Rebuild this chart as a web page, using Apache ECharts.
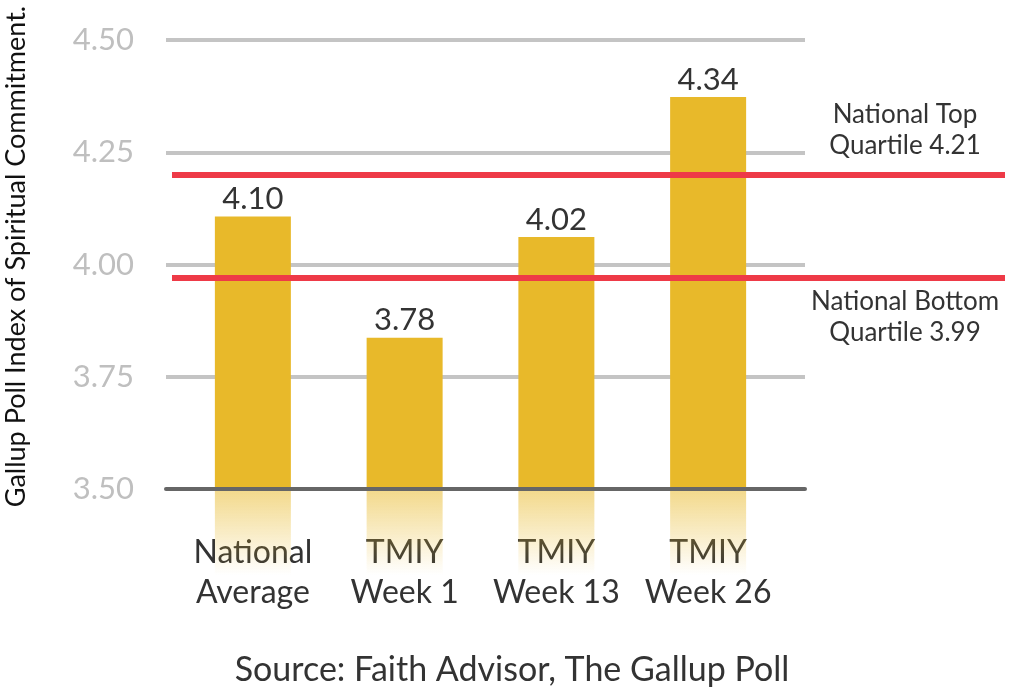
<!DOCTYPE html>
<html lang="en">
  <head>
    <meta charset="utf-8" />
    <title>Gallup Poll Index of Spiritual Commitment</title>
    <script src="https://cdn.jsdelivr.net/npm/echarts@6/dist/echarts.min.js"></script>
    <style>
      html, body { margin: 0; padding: 0; background: #fff; }
      #chart { width: 1024px; height: 687px; }
    </style>
  </head>
  <body>
    <div id="chart"></div>
    <script>
      // data
      var categories = ['National\nAverage', 'TMIY\nWeek 1', 'TMIY\nWeek 13', 'TMIY\nWeek 26']
      var barValues = [4.107, 3.837, 4.061, 4.373]
      var barLabels = ['4.10', '3.78', '4.02', '4.34']
      var fadeValues = [1, 1, 1, 1]
      var quartileValues = [4.203, 3.972]
      var quartileLabels = [['National Top', 'Quartile 4.21'], ['National Bottom', 'Quartile 3.99']]
      var yMin = 3.5, yMax = 4.5, yStep = 0.25

      var font = 'Lato, "Open Sans", sans-serif'
      var gold = '#E8B92A'

      var chart = echarts.init(document.getElementById('chart'))

      function richLines (lines) {
        return lines.map(function (l) { return '{t|' + l + '}' }).join('\n')
      }

      chart.setOption({
        animation: false,
        title: {
          text: 'Source: Faith Advisor, The Gallup Poll',
          left: 'center',
          top: 648,
          textStyle: { fontFamily: font, fontSize: 34, fontWeight: 'normal', color: '#333' }
        },
        grid: [
          // gridlines + tick labels
          { left: 166, right: 219, top: 40, height: 449, outerBoundsMode: 'none' },
          // bars
          { left: 177, right: 240, top: 40, height: 449, outerBoundsMode: 'none' },
          // fade below baseline
          { left: 177, right: 240, top: 489, height: 86, outerBoundsMode: 'none' },
          // quartile lines
          { left: 172, right: 19, top: 40, height: 449, outerBoundsMode: 'none' }
        ],
        xAxis: [
          { gridIndex: 0, type: 'value', min: 0, max: 1, z: 5,
            axisLine: { show: true, lineStyle: { color: '#666', width: 4 } },
            axisTick: { show: false }, axisLabel: { show: false }, splitLine: { show: false } },
          { gridIndex: 1, type: 'category', data: categories,
            axisLine: { show: false }, axisTick: { show: false },
            axisLabel: { interval: 0, hideOverlap: false, margin: 44, fontFamily: font, fontSize: 32, lineHeight: 40, color: '#333' } },
          { gridIndex: 2, type: 'category', data: categories, show: false },
          { gridIndex: 3, type: 'value', min: 0, max: 1, show: false }
        ],
        yAxis: [
          { gridIndex: 0, type: 'value', min: yMin, max: yMax, interval: yStep,
            name: 'Gallup Poll Index of Spiritual Commitment.',
            nameLocation: 'middle', nameGap: 136,
            nameTextStyle: { fontFamily: font, fontSize: 27, color: '#111', padding: [0, 0, 0, 16] },
            axisLine: { show: false }, axisTick: { show: false },
            axisLabel: { margin: 32, fontFamily: font, fontSize: 31, color: '#BFBFBF',
              formatter: function (v) { return v.toFixed(2) } },
            splitLine: { lineStyle: { color: '#C4C4C4', width: 4 } } },
          { gridIndex: 1, type: 'value', min: yMin, max: yMax, show: false },
          { gridIndex: 2, type: 'value', min: 0, max: 1, inverse: true, show: false },
          { gridIndex: 3, type: 'value', min: yMin, max: yMax, show: false }
        ],
        series: [
          {
            type: 'line', xAxisIndex: 3, yAxisIndex: 3, data: [], z: 3,
            markLine: {
              silent: true,
              symbol: 'none',
              lineStyle: { color: '#EE3A47', width: 6, type: 'solid' },
              data: quartileValues.map(function (v, i) {
                return {
                  yAxis: v,
                  label: {
                    show: true,
                    position: i === 0 ? 'insideEndTop' : 'insideEndBottom',
                    distance: [0, i === 0 ? 14 : 8],
                    formatter: richLines(quartileLabels[i]),
                    rich: { t: { width: 200, align: 'center', fontFamily: font, fontSize: 26, lineHeight: 31, color: '#333' } }
                  }
                }
              })
            }
          },
          {
            type: 'bar', xAxisIndex: 1, yAxisIndex: 1, data: barValues, z: 4,
            barWidth: 76,
            itemStyle: { color: gold },
            label: {
              show: true, position: 'top', distance: 2,
              fontFamily: font, fontSize: 31, color: '#333',
              formatter: function (p) { return barLabels[p.dataIndex] }
            }
          },
          {
            type: 'bar', xAxisIndex: 2, yAxisIndex: 2, data: fadeValues, z: 1,
            barWidth: 76,
            itemStyle: {
              color: new echarts.graphic.LinearGradient(0, 0, 0, 1, [
                { offset: 0, color: 'rgba(232,185,42,0.55)' },
                { offset: 1, color: 'rgba(232,185,42,0)' }
              ])
            }
          }
        ]
      })
    </script>
  </body>
</html>
